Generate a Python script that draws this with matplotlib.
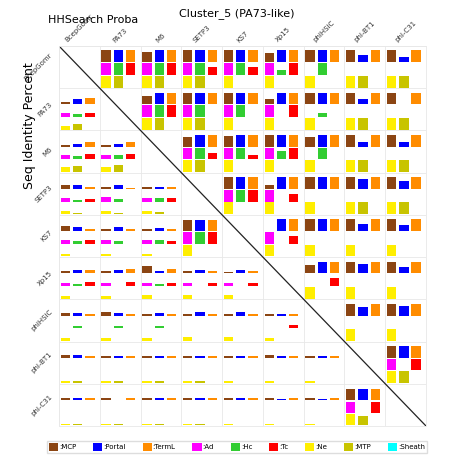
import matplotlib
matplotlib.use("Agg")
import matplotlib.pyplot as plt
from matplotlib.patches import Patch

genomes = ["BcepGomr", "PA73", "M6", "SETP3", "KS7", "Xp15", "phiHSIC", "phi-BT1", "phi-C31"]
proteins = ["MCP", "Portal", "TermL", "Ad", "Hc", "Tc", "Ne", "MTP", "Sheath"]
colors = ["#8b4513", "#0000ff", "#ff8c00", "#ff00ff", "#32cd32", "#ff0000", "#ffee00", "#c8c400", "#00ffff"]

# one list per genome row; columns left of the diagonal hold seq identity (%),
# columns right of it hold the HHSearch probability (%), diagonal is None
row_bcepgomr = [
    None,
    [100, 100, 100, 100, 100, 100, 100, 100, 0],
    [85, 100, 100, 100, 100, 100, 100, 100, 0],
    [100, 100, 100, 100, 100, 70, 100, 100, 0],
    [100, 100, 100, 100, 100, 63, 100, 0, 0],
    [77, 100, 100, 100, 44, 100, 100, 0, 0],
    [100, 100, 100, 0, 100, 0, 100, 0, 0],
    [100, 63, 100, 0, 0, 0, 100, 100, 0],
    [100, 44, 100, 0, 0, 0, 100, 100, 0],
]
row_pa73 = [
    [17, 50, 58, 37, 26, 32, 33, 47, 0],
    None,
    [74, 100, 100, 100, 100, 100, 100, 100, 0],
    [100, 100, 100, 100, 100, 0, 100, 100, 0],
    [100, 100, 100, 100, 100, 0, 100, 0, 0],
    [45, 100, 100, 100, 0, 100, 100, 0, 0],
    [100, 100, 100, 0, 35, 0, 100, 0, 0],
    [100, 45, 100, 0, 0, 0, 100, 100, 0],
    [100, 0, 100, 0, 0, 0, 100, 100, 0],
]
row_m6 = [
    [14, 25, 42, 34, 26, 49, 39, 55, 0],
    [13, 24, 40, 34, 34, 46, 40, 57, 0],
    None,
    [80, 100, 100, 100, 100, 51, 100, 100, 0],
    [90, 100, 100, 100, 100, 37, 100, 0, 0],
    [100, 100, 100, 100, 71, 100, 100, 0, 0],
    [80, 100, 100, 0, 100, 0, 100, 0, 0],
    [100, 37, 100, 0, 0, 0, 100, 100, 0],
    [100, 43, 100, 0, 0, 0, 100, 100, 0],
]
row_setp3 = [
    [37, 34, 14, 29, 17, 23, 26, 14, 0],
    [14, 34, 11, 37, 23, 0, 23, 14, 0],
    [14, 17, 17, 26, 26, 26, 29, 18, 0],
    None,
    [100, 100, 100, 100, 100, 100, 100, 0, 0],
    [37, 100, 100, 100, 0, 66, 100, 0, 0],
    [100, 100, 100, 0, 0, 0, 100, 0, 0],
    [100, 80, 100, 0, 0, 0, 100, 100, 0],
    [100, 63, 100, 0, 0, 0, 100, 100, 0],
]
row_ks7 = [
    [39, 33, 15, 29, 25, 29, 18, 0, 0],
    [15, 38, 14, 34, 25, 0, 18, 0, 0],
    [15, 23, 20, 29, 28, 20, 23, 0, 0],
    [97, 97, 97, 97, 97, 97, 97, 0, 0],
    None,
    [0, 100, 100, 100, 0, 70, 100, 0, 0],
    [100, 100, 100, 0, 0, 0, 100, 0, 0],
    [100, 60, 100, 0, 0, 0, 100, 0, 0],
    [100, 55, 100, 0, 0, 0, 100, 0, 0],
]
row_xp15 = [
    [23, 30, 31, 23, 14, 31, 23, 0, 0],
    [17, 31, 37, 23, 0, 38, 23, 0, 0],
    [59, 23, 33, 23, 15, 29, 29, 0, 0],
    [17, 31, 20, 23, 0, 26, 29, 0, 0],
    [14, 29, 18, 23, 0, 24, 31, 0, 0],
    None,
    [75, 100, 100, 0, 0, 70, 100, 0, 0],
    [100, 77, 100, 0, 0, 0, 100, 0, 0],
    [100, 57, 100, 0, 0, 0, 100, 0, 0],
]
row_phihsic = [
    [20, 20, 14, 0, 17, 0, 20, 0, 0],
    [34, 20, 14, 0, 17, 0, 20, 0, 0],
    [14, 20, 14, 0, 20, 0, 26, 0, 0],
    [14, 26, 14, 0, 0, 0, 29, 0, 0],
    [14, 26, 17, 0, 0, 0, 37, 0, 0],
    [17, 14, 11, 0, 0, 23, 23, 0, 0],
    None,
    [100, 71, 100, 0, 0, 0, 100, 0, 0],
    [100, 80, 100, 0, 0, 0, 100, 0, 0],
]
row_phibt1 = [
    [20, 20, 11, 0, 0, 0, 17, 14, 0],
    [14, 14, 14, 0, 0, 0, 20, 17, 0],
    [14, 14, 11, 0, 0, 0, 14, 14, 0],
    [11, 11, 11, 0, 0, 0, 14, 14, 0],
    [11, 11, 17, 0, 0, 0, 14, 0, 0],
    [20, 11, 14, 0, 0, 0, 17, 0, 0],
    [17, 11, 14, 0, 0, 0, 20, 0, 0],
    None,
    [100, 100, 100, 100, 0, 100, 100, 100, 0],
]
row_phic31 = [
    [20, 20, 14, 0, 0, 0, 11, 11, 0],
    [14, 0, 14, 0, 0, 0, 11, 11, 0],
    [14, 14, 14, 0, 0, 0, 11, 11, 0],
    [14, 14, 14, 0, 0, 0, 11, 11, 0],
    [14, 14, 14, 0, 0, 0, 11, 0, 0],
    [14, 11, 14, 0, 0, 0, 11, 0, 0],
    [20, 11, 14, 0, 0, 0, 11, 0, 0],
    [95, 95, 95, 95, 0, 95, 95, 80, 0],
    None,
]
rows = [row_bcepgomr, row_pa73, row_m6, row_setp3, row_ks7,
        row_xp15, row_phihsic, row_phibt1, row_phic31]

n = len(genomes)
W, H = 474, 474
fig = plt.figure(figsize=(W / 100, H / 100), dpi=100)
ax = fig.add_axes([59 / W, 1 - 426 / H, 367 / W, 380 / H])

# cell layout (fractions of one cell)
bar_w, x_off, x_step = 0.228, 0.042, 0.301
max_h, y_off, y_step = 0.277, 0.017, 0.30

for k, prot in enumerate(proteins):
    j, i = k % 3, k // 3
    xs, ys, hs = [], [], []
    for r, row in enumerate(rows):
        for c, vals in enumerate(row):
            if vals is None or vals[k] <= 0:
                continue
            xs.append(c + x_off + j * x_step)
            ys.append((n - 1 - r) + y_off + (2 - i) * y_step)
            hs.append(vals[k] / 100 * max_h)
    ax.bar(xs, hs, width=bar_w, bottom=ys, align="edge", color=colors[k], linewidth=0)

ax.plot([0, n], [n, 0], color="#222222", lw=0.9)

ax.set_xlim(0, n)
ax.set_ylim(0, n)
ax.set_xticks(range(n + 1))
ax.set_yticks(range(n + 1))
ax.grid(True, color="#e8e8e8", lw=0.6)
ax.set_axisbelow(True)
ax.tick_params(length=0, labelbottom=False, labelleft=False)
for s in ax.spines.values():
    s.set_color("#e8e8e8")
    s.set_linewidth(0.6)

for c, name in enumerate(genomes):
    ax.annotate(name, (c + 0.5, n), xytext=(0, 2), textcoords="offset points",
                rotation=45, ha="center", va="bottom", fontsize=5, color="#333333")
    ax.annotate(name, (0, n - 0.5 - c), xytext=(-4, 0), textcoords="offset points",
                rotation=45, ha="right", va="center", fontsize=5, color="#333333")

fig.text(0.5, 1 - 14 / H, "Cluster_5 (PA73-like)", ha="center", va="center", fontsize=8)
fig.text(48 / W, 1 - 20 / H, "HHSearch Proba", ha="left", va="center", fontsize=8)
fig.text(30 / W, 1 - 126 / H, "Seq Identity Percent", rotation=90,
         ha="center", va="center", fontsize=9)

handles = [Patch(facecolor=col, label=":" + p) for p, col in zip(proteins, colors)]
fig.legend(handles=handles, loc="center", mode="expand", ncol=9,
           bbox_to_anchor=(47 / W, 1 - 454 / H, 380 / W, 14 / H),
           fontsize=5, handlelength=1.3, handleheight=1.3, handletextpad=0.15,
           borderpad=0.3, borderaxespad=0, columnspacing=0.5,
           fancybox=False, edgecolor="#dddddd", framealpha=1)

fig.savefig("out.png", dpi=100)
